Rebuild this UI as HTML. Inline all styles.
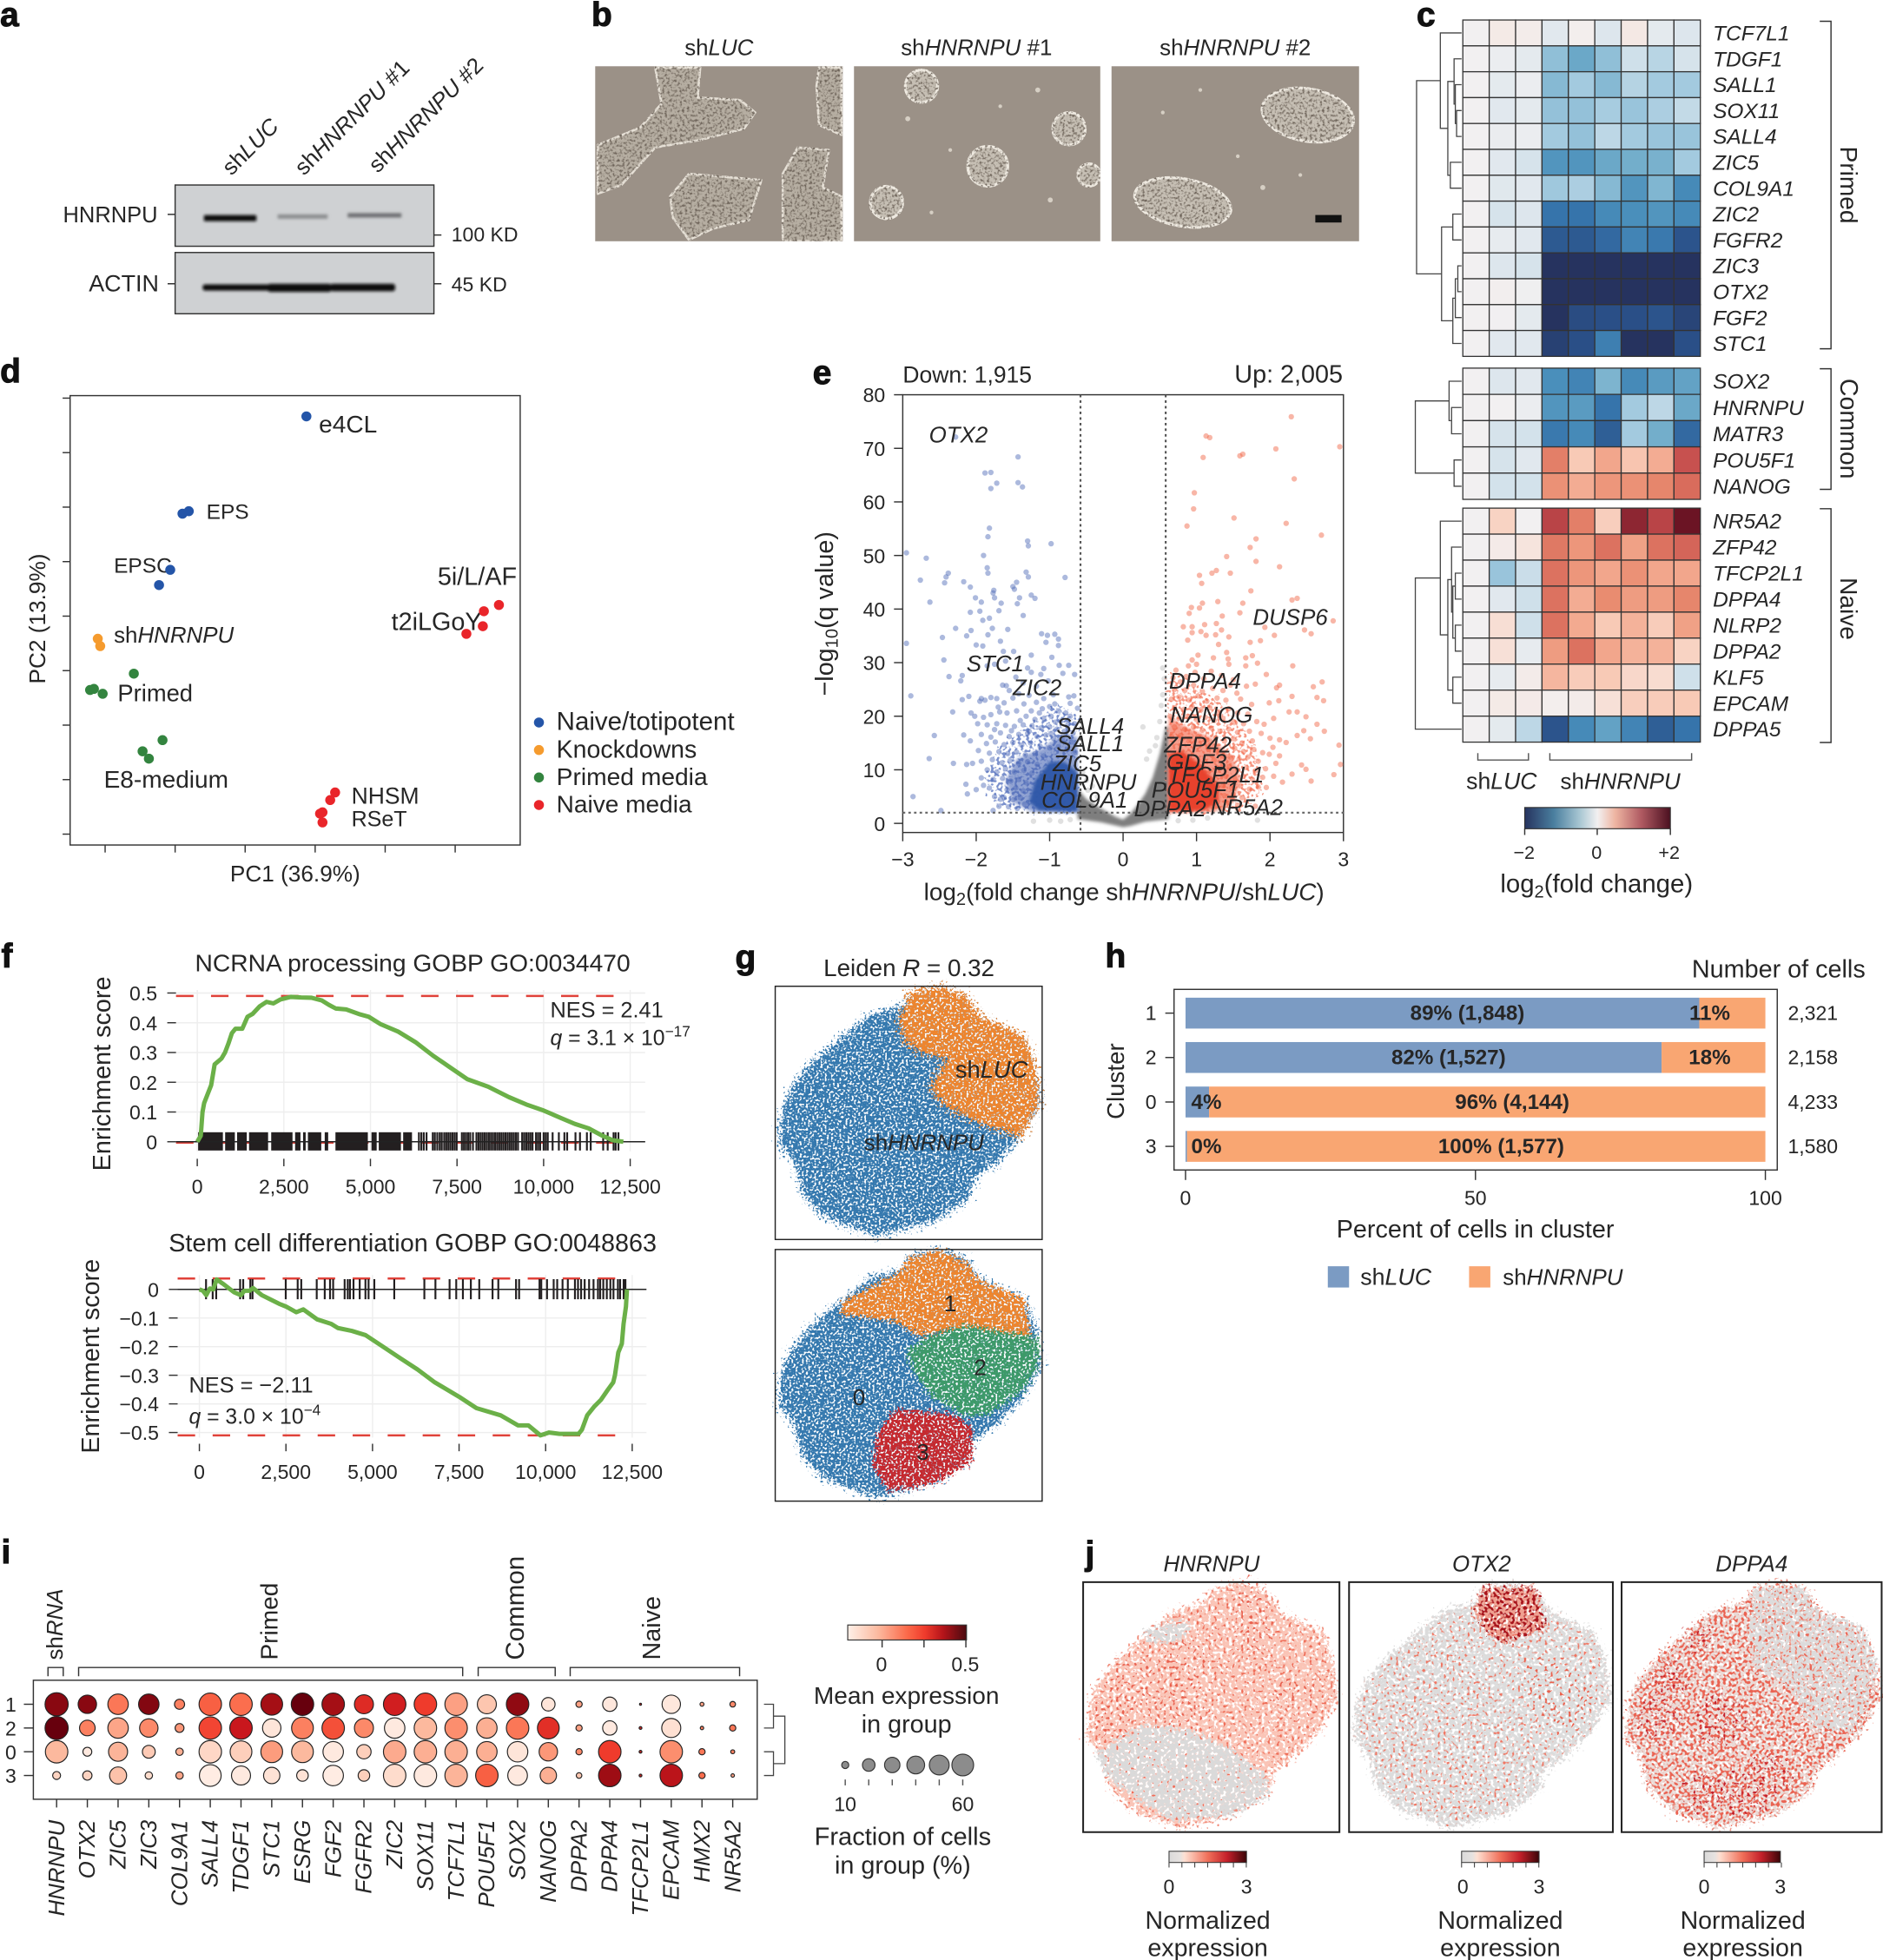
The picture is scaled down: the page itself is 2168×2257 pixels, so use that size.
<!DOCTYPE html>
<html lang="en">
<head>
<meta charset="utf-8">
<title>HNRNPU knockdown figure</title>
<style>
html,body{margin:0;padding:0;background:#fff;}
svg{display:block;}
text{font-family:"Liberation Sans",sans-serif;fill:#262626;font-size:17px;}
.pl{font-weight:bold;font-size:27px;fill:#111;stroke:#111;stroke-width:.7px;}
.it{font-style:italic;}
.t16{font-size:16px;}
.t15{font-size:15px;}
.t18{font-size:18px;}
.g18{font-size:18px;font-style:italic;}
.b17{font-size:16.8px;font-weight:bold;}
.m{text-anchor:middle;}
.e{text-anchor:end;}
</style>
</head>
<body>
<svg id="fig" xmlns="http://www.w3.org/2000/svg" width="2168" height="2257" viewBox="0 0 1506 1568">
<defs>
<filter id="blur1" x="-20%" y="-100%" width="140%" height="300%"><feGaussianBlur stdDeviation="1.1"/></filter>
<filter id="blur2" x="-20%" y="-20%" width="140%" height="140%"><feGaussianBlur stdDeviation="1.3"/></filter>
<filter id="gDense" x="-6%" y="-6%" width="112%" height="112%" color-interpolation-filters="sRGB">
<feTurbulence type="fractalNoise" baseFrequency="0.6" numOctaves="1" seed="4" result="n"/>
<feDisplacementMap in="SourceGraphic" in2="n" scale="16" xChannelSelector="R" yChannelSelector="G" result="d"/>
<feColorMatrix in="n" type="matrix" values="0 0 0 0 0 0 0 0 0 0 0 0 0 0 0 0 0 0 9 -3.3" result="m"/>
<feComposite in="d" in2="m" operator="in"/>
</filter>
<filter id="gSparse" x="-8%" y="-8%" width="116%" height="116%" color-interpolation-filters="sRGB">
<feTurbulence type="fractalNoise" baseFrequency="0.6" numOctaves="1" seed="23" result="n"/>
<feDisplacementMap in="SourceGraphic" in2="n" scale="16" xChannelSelector="R" yChannelSelector="G" result="d"/>
<feColorMatrix in="n" type="matrix" values="0 0 0 0 0 0 0 0 0 0 0 0 0 0 0 0 0 0 9 -4.9" result="m"/>
<feComposite in="d" in2="m" operator="in"/>
</filter>
<filter id="jDense" x="-6%" y="-6%" width="112%" height="112%" color-interpolation-filters="sRGB">
<feTurbulence type="fractalNoise" baseFrequency="0.42" numOctaves="1" seed="9" result="n"/>
<feDisplacementMap in="SourceGraphic" in2="n" scale="16" xChannelSelector="R" yChannelSelector="G" result="d"/>
<feColorMatrix in="n" type="matrix" values="0 0 0 0 0 0 0 0 0 0 0 0 0 0 0 0 0 0 9 -3.3" result="m"/>
<feComposite in="d" in2="m" operator="in"/>
</filter>
<filter id="jMid" x="-6%" y="-6%" width="112%" height="112%" color-interpolation-filters="sRGB">
<feTurbulence type="fractalNoise" baseFrequency="0.42" numOctaves="1" seed="17" result="n"/>
<feDisplacementMap in="SourceGraphic" in2="n" scale="16" xChannelSelector="R" yChannelSelector="G" result="d"/>
<feColorMatrix in="n" type="matrix" values="0 0 0 0 0 0 0 0 0 0 0 0 0 0 0 0 0 0 9 -4.5" result="m"/>
<feComposite in="d" in2="m" operator="in"/>
</filter>
<filter id="jSparse" x="-6%" y="-6%" width="112%" height="112%" color-interpolation-filters="sRGB">
<feTurbulence type="fractalNoise" baseFrequency="0.42" numOctaves="1" seed="31" result="n"/>
<feDisplacementMap in="SourceGraphic" in2="n" scale="16" xChannelSelector="R" yChannelSelector="G" result="d"/>
<feColorMatrix in="n" type="matrix" values="0 0 0 0 0 0 0 0 0 0 0 0 0 0 0 0 0 0 9 -5.4" result="m"/>
<feComposite in="d" in2="m" operator="in"/>
</filter>
<filter id="cellTex" x="-3%" y="-3%" width="106%" height="106%" color-interpolation-filters="sRGB">
<feTurbulence type="fractalNoise" baseFrequency="0.5" numOctaves="2" seed="7" result="n"/>
<feColorMatrix in="n" type="matrix" values="0 0 0 0 .42 0 0 0 0 .38 0 0 0 0 .34 0 0 0 3.2 -1.5" result="m"/>
<feComposite in="m" in2="SourceGraphic" operator="atop"/>
</filter>
<linearGradient id="heatBar"><stop offset="0" stop-color="#26335f"/><stop offset=".2" stop-color="#4a7f9f"/><stop offset=".38" stop-color="#a9c7d3"/><stop offset=".5" stop-color="#f2f0f1"/><stop offset=".62" stop-color="#eeb5a2"/><stop offset=".8" stop-color="#b05a62"/><stop offset="1" stop-color="#4b1020"/></linearGradient>
<linearGradient id="redsBar"><stop offset="0" stop-color="#fff0e8"/><stop offset=".25" stop-color="#fcbba1"/><stop offset=".5" stop-color="#fb6a4a"/><stop offset=".65" stop-color="#ef3b2c"/><stop offset=".8" stop-color="#b5141a"/><stop offset="1" stop-color="#4a0a10"/></linearGradient>
<linearGradient id="exprBar"><stop offset="0" stop-color="#d9d9d9"/><stop offset=".14" stop-color="#e6e2e0"/><stop offset=".2" stop-color="#fee0d2"/><stop offset=".5" stop-color="#f0705a"/><stop offset=".75" stop-color="#c4202a"/><stop offset="1" stop-color="#3b0508"/></linearGradient>
<clipPath id="clipB1"><rect x="476" y="53" width="198" height="140"/></clipPath>
<clipPath id="clipB2"><rect x="683" y="53" width="197" height="140"/></clipPath>
<clipPath id="clipB3"><rect x="889" y="53" width="198" height="140"/></clipPath>
</defs>

<g>
<text class="pl" x="0" y="21">a</text>
<text class="pl" x="473" y="21">b</text>
<text class="pl" x="1133" y="21">c</text>
<text class="pl" x="0" y="306">d</text>
<text class="pl" x="650" y="307">e</text>
<text class="pl" x="1" y="774">f</text>
<text class="pl" x="588" y="775">g</text>
<text class="pl" x="884" y="774">h</text>
<text class="pl" x="1" y="1251">i</text>
<text class="pl" x="868" y="1252">j</text>
</g>

<g id="panelA">
<text class="t18" transform="translate(185,141) rotate(-45)">sh<tspan class="it">LUC</tspan></text>
<text class="t18" transform="translate(243,141) rotate(-45)">sh<tspan class="it">HNRNPU</tspan> #1</text>
<text class="t18" transform="translate(302,139) rotate(-45)">sh<tspan class="it">HNRNPU</tspan> #2</text>
<rect x="140" y="148" width="207" height="49" fill="#cfd1d3" stroke="#333" stroke-width="1"/>
<rect x="140" y="202" width="207" height="49" fill="#cfd1d3" stroke="#333" stroke-width="1"/>
<g filter="url(#blur1)">
<rect x="163" y="172" width="42" height="5" rx="1" fill="#111"/>
<rect x="222" y="171.5" width="40" height="3.5" fill="#8c8e90"/>
<rect x="278" y="170.5" width="43" height="3.5" fill="#6e7072"/>
<rect x="162" y="227.5" width="54" height="5" rx="2" fill="#111"/>
<rect x="214" y="227" width="51" height="6.5" rx="2" fill="#111"/>
<rect x="264" y="227" width="52" height="6" rx="2" fill="#111"/>
</g>
<text class="e" x="126" y="178" style="font-size:17.7px">HNRNPU</text>
<text class="e" x="127" y="233" style="font-size:18.7px">ACTIN</text>
<path d="M134 171.500H140M134 227H140M347 188H353M347 227H353" stroke="#333" stroke-width="1" fill="none"/>
<text class="t16" x="361" y="193">100 KD</text>
<text class="t16" x="361" y="233">45 KD</text>
</g>

<g id="panelB">
<text class="t18 m" x="575" y="44">sh<tspan class="it">LUC</tspan></text>
<text class="t18 m" x="781" y="44">sh<tspan class="it">HNRNPU</tspan> #1</text>
<text class="t18 m" x="988" y="44">sh<tspan class="it">HNRNPU</tspan> #2</text>
<rect x="476" y="53" width="198" height="140" fill="#9b9187"/>
<rect x="683" y="53" width="197" height="140" fill="#9b9187"/>
<rect x="889" y="53" width="198" height="140" fill="#9b9187"/>
<g clip-path="url(#clipB1)" fill="#b6aea2" stroke="#e6e0d6" stroke-width="1.800" stroke-linejoin="round" filter="url(#cellTex)">
<polygon points="524,54 560,54 558,78 592,80 604,90 595,103 560,112 524,118 497,148 478,155 478,116 512,102 529,83"/>
<polygon points="536,157 551,139 609,144 599,176 570,183 551,192 538,174"/>
<polygon points="638,118 663,120 658,150 673,157 673,193 626,193 626,139"/>
<polygon points="655,54 673,54 673,108 655,100 653,69"/>
</g>
<g clip-path="url(#clipB2)" fill="#c6bfb4" stroke="#efeae1" stroke-width="2.200" filter="url(#cellTex)">
<circle cx="737" cy="69" r="13"/>
<circle cx="855" cy="103" r="13"/>
<circle cx="790" cy="133" r="16"/>
<circle cx="709" cy="162" r="13"/>
<circle cx="871" cy="140" r="9"/>
</g>
<g clip-path="url(#clipB3)" fill="#c6bfb4" stroke="#efeae1" stroke-width="2.200" filter="url(#cellTex)">
<ellipse cx="1046" cy="92" rx="37" ry="21" transform="rotate(10 1046 92)"/>
<ellipse cx="946" cy="162" rx="39" ry="19" transform="rotate(10 946 162)"/>
</g>
<rect x="1052" y="172" width="21" height="6" fill="#111"/>
<g fill="#d6cfc4">
<circle cx="726" cy="95" r="2"/><circle cx="760" cy="120" r="1.500"/><circle cx="830" cy="72" r="2"/><circle cx="840" cy="160" r="2"/><circle cx="745" cy="170" r="1.500"/><circle cx="800" cy="85" r="1.500"/>
<circle cx="930" cy="90" r="1.500"/><circle cx="990" cy="125" r="1.500"/><circle cx="1010" cy="150" r="2"/><circle cx="960" cy="72" r="1.500"/><circle cx="1040" cy="140" r="1.500"/>
</g>
</g>

<g id="panelC">
<path d="M1455.500 17H1464.500V279H1455.500M1455.500 295H1464.500V391.500H1455.500M1455.500 407H1464.500V594H1455.500" fill="none" stroke="#333" stroke-width="1"/>
<text class="m" transform="translate(1472,148) rotate(90)" style="font-size:19.500px">Primed</text>
<text class="m" transform="translate(1472,343) rotate(90)" style="font-size:19.800px">Common</text>
<text class="m" transform="translate(1472,487) rotate(90)" style="font-size:19.500px">Naive</text>
<path d="M1182 602.500V608H1222.500V602.500M1239.600 602.500V608H1353V602.500" fill="none" stroke="#555" stroke-width="1"/>
<text class="m" x="1201" y="631" style="font-size:18.500px">sh<tspan class="it">LUC</tspan></text>
<text class="t18 m" x="1296" y="631">sh<tspan class="it">HNRNPU</tspan></text>
<rect x="1219.500" y="646" width="116.500" height="17" fill="url(#heatBar)" stroke="#333" stroke-width=".8"/>
<path d="M1219.500 663V668M1277.500 663V668M1336 663V668" stroke="#333" stroke-width="1"/>
<text class="t15 m" x="1219" y="687">−2</text>
<text class="t15 m" x="1277" y="687">0</text>
<text class="t15 m" x="1335" y="687">+2</text>
<text class="m" x="1277" y="714" style="font-size:20.400px">log<tspan font-size="14" dy="4">2</tspan><tspan dy="-4">(fold change)</tspan></text>
</g>

<g id="panelD">
<rect x="56" y="316.500" width="360" height="359.500" fill="none" stroke="#333" stroke-width="1"/>
<text x="255" y="346" style="font-size:19.500px">e4CL</text>
<text x="165" y="415" style="font-size:17px">EPS</text>
<text x="91" y="458" style="font-size:17px">EPSC</text>
<text x="91" y="514" style="font-size:18px">sh<tspan class="it">HNRNPU</tspan></text>
<text x="94" y="561" style="font-size:19px">Primed</text>
<text x="83" y="630" style="font-size:19.500px">E8-medium</text>
<text x="350" y="468" style="font-size:20px">5i/L/AF</text>
<text x="313" y="504" style="font-size:20px">t2iLGoY</text>
<text x="281" y="643" style="font-size:18.400px">NHSM</text>
<text x="281" y="661" style="font-size:17.400px">RSeT</text>
<text class="m" x="236" y="705" style="font-size:18.200px">PC1 (36.9%)</text>
<text class="m" transform="translate(36,495) rotate(-90)" style="font-size:18.200px">PC2 (13.9%)</text>
<circle cx="431" cy="578" r="4" fill="#2455a8"/>
<circle cx="431" cy="600" r="4" fill="#f59b2e"/>
<circle cx="431" cy="622" r="4" fill="#33843f"/>
<circle cx="431" cy="644" r="4" fill="#e9252a"/>
<text x="445" y="584" style="font-size:20.500px">Naive/totipotent</text>
<text x="445" y="606" style="font-size:19.800px">Knockdowns</text>
<text x="445" y="628" style="font-size:19.600px">Primed media</text>
<text x="445" y="650" style="font-size:19.500px">Naive media</text>
</g>

<g id="panelE">
<text x="722" y="306" style="font-size:18.400px">Down: 1,915</text>
<text class="e" x="1074" y="306" style="font-size:20px">Up: 2,005</text>
<rect x="722" y="315.800" width="352.500" height="350.200" fill="none" stroke="#333" stroke-width="1"/>
<text class="m" transform="translate(666,491) rotate(-90)" style="font-size:20px">−log<tspan font-size="14" dy="4">10</tspan><tspan dy="-4">(q value)</tspan></text>
<text class="m" x="899" y="720" style="font-size:19.400px">log<tspan font-size="14" dy="4">2</tspan><tspan dy="-4">(fold change sh</tspan><tspan class="it">HNRNPU</tspan>/sh<tspan class="it">LUC</tspan>)</text>
</g>

<g id="panelF">
<text class="m" x="330" y="777" style="font-size:19.600px">NCRNA processing GOBP GO:0034470</text>
<text class="m" x="330" y="1001" style="font-size:20px">Stem cell differentiation GOBP GO:0048863</text>
<text class="m" transform="translate(88,859) rotate(-90)" style="font-size:20px">Enrichment score</text>
<text class="m" transform="translate(79,1085) rotate(-90)" style="font-size:20px">Enrichment score</text>
</g>
<g id="panelFt">
<text x="440" y="814" style="font-size:17.600px">NES = 2.41</text>
<text x="440" y="836" style="font-size:17.200px"><tspan class="it">q</tspan> = 3.1 × 10<tspan font-size="12" dy="-7">−17</tspan></text>
<text x="151" y="1114" style="font-size:17.600px">NES = −2.11</text>
<text x="151" y="1139" style="font-size:17.200px"><tspan class="it">q</tspan> = 3.0 × 10<tspan font-size="12" dy="-7">−4</tspan></text>
</g>

<g id="panelG">
<text class="m" x="727" y="781" style="font-size:19.300px">Leiden <tspan class="it">R</tspan> = 0.32</text>
</g>
<g id="panelGt">
<rect x="620" y="789" width="213.500" height="202.600" fill="none" stroke="#222" stroke-width="1"/>
<rect x="620" y="999.600" width="213.500" height="201.300" fill="none" stroke="#222" stroke-width="1"/>
<text x="764" y="862" style="font-size:19px">sh<tspan class="it">LUC</tspan></text>
<text x="691" y="920" style="font-size:18px">sh<tspan class="it">HNRNPU</tspan></text>
<text x="755" y="1049" style="font-size:18px">1</text>
<text x="779" y="1100" style="font-size:18px">2</text>
<text x="682" y="1124" style="font-size:18px">0</text>
<text x="733" y="1168" style="font-size:18px">3</text>
</g>

<g id="panelH">
<rect x="939" y="791.500" width="482.500" height="144.500" fill="none" stroke="#333" stroke-width="1"/>
<text class="e" x="1492" y="782" style="font-size:20px">Number of cells</text>
<text class="m" transform="translate(899,865) rotate(-90)" style="font-size:19.200px">Cluster</text>
<text class="m" x="1180" y="990" style="font-size:20px">Percent of cells in cluster</text>
<rect x="1062" y="1013" width="17" height="17" fill="#7b9bc3"/>
<text x="1088" y="1028" style="font-size:18.600px">sh<tspan class="it">LUC</tspan></text>
<rect x="1175" y="1013" width="17" height="17" fill="#f9a672"/>
<text x="1202" y="1028" style="font-size:18px">sh<tspan class="it">HNRNPU</tspan></text>
</g>

<g id="panelI">
<path d="M38.300 1341V1334H50.500V1341M62.800 1341V1334H370V1341M382.400 1341V1334H444V1341M456 1341V1334H591.500V1341" fill="none" stroke="#333" stroke-width="1"/>
<text transform="translate(50,1328) rotate(-90)" style="font-size:18px">sh<tspan class="it">RNA</tspan></text>
<text transform="translate(222,1328) rotate(-90)" style="font-size:19.500px">Primed</text>
<text transform="translate(419,1328) rotate(-90)" style="font-size:20.500px">Common</text>
<text transform="translate(528,1328) rotate(-90)" style="font-size:20px">Naive</text>
<rect x="26.600" y="1344.200" width="579" height="95.200" fill="none" stroke="#333" stroke-width="1"/>
<rect x="678" y="1300" width="95" height="12" fill="url(#redsBar)" stroke="#333" stroke-width=".8"/>
<path d="M705.500 1312V1318M739 1312V1318M772.500 1312V1318" stroke="#333" stroke-width="1"/>
<text class="t16 m" x="705" y="1337">0</text>
<text class="t16 m" x="772" y="1337">0.5</text>
<text class="m" x="725" y="1363" style="font-size:19.500px">Mean expression</text>
<text class="m" x="725" y="1386" style="font-size:20px">in group</text>
<text class="t16 m" x="676" y="1449">10</text>
<text class="t16 m" x="770" y="1449">60</text>
<text class="m" x="722" y="1476" style="font-size:20.200px">Fraction of cells</text>
<text class="m" x="722" y="1499" style="font-size:20px">in group (%)</text>
</g>

<g id="panelJ">
<text class="g18 m" x="969" y="1257">HNRNPU</text>
<text class="g18 m" x="1185" y="1257">OTX2</text>
<text class="g18 m" x="1401" y="1257">DPPA4</text>
</g>
<g id="panelJt">
<rect x="866.300" y="1265.700" width="205" height="200" fill="none" stroke="#222" stroke-width="1.400"/>
<rect x="1079" y="1265.700" width="211" height="200" fill="none" stroke="#222" stroke-width="1.400"/>
<rect x="1297" y="1265.700" width="208" height="200" fill="none" stroke="#222" stroke-width="1.400"/>
<rect x="935" y="1481" width="62" height="9" fill="url(#exprBar)" stroke="#333" stroke-width=".7"/>
<rect x="1169" y="1481" width="62" height="9" fill="url(#exprBar)" stroke="#333" stroke-width=".7"/>
<rect x="1363" y="1481" width="61" height="9" fill="url(#exprBar)" stroke="#333" stroke-width=".7"/>
<text class="t16 m" x="935" y="1515">0</text>
<text class="t16 m" x="997" y="1515">3</text>
<text class="t16 m" x="1170" y="1515">0</text>
<text class="t16 m" x="1231" y="1515">3</text>
<text class="t16 m" x="1363" y="1515">0</text>
<text class="t16 m" x="1424" y="1515">3</text>
<text class="m" x="966" y="1543" style="font-size:19.800px">Normalized</text>
<text class="m" x="966" y="1565" style="font-size:19.900px">expression</text>
<text class="m" x="1200" y="1543" style="font-size:19.800px">Normalized</text>
<text class="m" x="1200" y="1565" style="font-size:19.900px">expression</text>
<text class="m" x="1394" y="1543" style="font-size:19.800px">Normalized</text>
<text class="m" x="1394" y="1565" style="font-size:19.900px">expression</text>
</g>
</svg>

<script>
/* ---------- panel c data ---------- */
const primedGenes=['TCF7L1','TDGF1','SALL1','SOX11','SALL4','ZIC5','COL9A1','ZIC2','FGFR2','ZIC3','OTX2','FGF2','STC1'];
const primedValues=[
[0,.08,.05,-.12,.03,-.15,.1,-.1,-.15],
[0,-.05,-.1,-.6,-.8,-.6,-.25,-.38,-.2],
[0,-.1,-.05,-.65,-.5,-.65,-.4,-.5,-.5],
[0,-.12,-.1,-.58,-.58,-.48,-.55,-.45,-.32],
[0,-.06,-.05,-.5,-.58,-.35,-.5,-.55,-.55],
[0,-.12,-.2,-.95,-.95,-.8,-.75,-.72,-.5],
[0,-.13,-.12,-.52,-.45,-.65,-.95,-.68,-1.05],
[0,-.2,-.15,-1.25,-1.25,-1.05,-1,-.95,-1.05],
[0,-.08,-.12,-1.5,-1.5,-1.35,-1.1,-1.2,-1.55],
[0,-.15,-.2,-2,-2,-2,-2,-2,-2],
[0,.02,-.02,-2,-2,-2,-2,-2,-2],
[0,-.01,-.1,-2,-1.65,-1.6,-1.6,-1.55,-1.75],
[0,-.12,-.12,-1.8,-1.6,-1.15,-2,-2,-1.6]];
const commonGenes=['SOX2','HNRNPU','MATR3','POU5F1','NANOG'];
const commonValues=[
[0,-.15,-.12,-1,-1.1,-.7,-1.05,-.9,-.85],
[0,0,-.05,-.95,-.9,-1.25,-.5,-.35,-.8],
[0,-.2,-.22,-1.2,-1.05,-1.45,-.5,-.75,-1.35],
[0,-.2,-.12,1.1,.45,.75,.5,.7,1.45],
[0,-.22,-.22,.95,.7,.9,.95,1.05,1.25]];
const naiveGenes=['NR5A2','ZFP42','TFCP2L1','DPPA4','NLRP2','DPPA2','KLF5','EPCAM','DPPA5'];
const naiveValues=[
[0,.35,0,1.55,1.1,.4,1.8,1.55,2],
[0,.07,.15,1.15,.9,1.2,.8,1.2,1.3],
[0,-.55,-.28,1.2,.9,.75,.95,.75,.75],
[0,-.12,-.25,1.2,.7,1,.85,.85,1.05],
[0,.22,-.25,1.2,.72,.45,.65,.42,.8],
[0,.2,-.08,.85,1.2,.75,.65,.65,.35],
[0,-.08,.06,.62,.42,.45,.3,.25,-.25],
[0,.08,.07,.03,.06,.2,.4,.42,.45],
[0,-.1,-.35,-1.55,-1.05,-.85,-1.1,-1.45,-1.25]];

/* ---------- panel d data (PC1, PC2) ---------- */
const pc1Ticks=[-60,-40,-20,0,20,40];
const pc2Ticks=[80,60,40,20,0,-20,-40,-60,-80];
const naiveTotipotentPCs=[[-2.5,73.3],[-37.9,37.6],[-36.1,38.5],[-41.4,17],[-44.6,11.4]];
const knockdownPCs=[[-62.1,-8.3],[-61.4,-11]];
const primedPCs=[[-51.8,-21.1],[-64.3,-27.1],[-63.2,-26.7],[-60.7,-28.5],[-43.6,-45.5],[-49.3,-49.6],[-47.5,-52.3]];
const naiveMediaPCs=[[52.5,4.1],[48.2,1.8],[47.9,-3.7],[43.2,-6.5],[5.7,-64.7],[4.3,-67.5],[2.1,-72],[1.4,-72.5],[2.1,-75.7]];

/* ---------- panel e data (log2FC, -log10 q) ---------- */
const volcanoXTicks=[-3,-2,-1,0,1,2,3];
const volcanoYTicks=[0,10,20,30,40,50,60,70,80];
const volcanoThresholds=[-0.58,0.58];
const volcanoQThreshold=2;
const downSparse=[[-2.28,72.1],[-1.43,68.4],[-1.88,65.4],[-1.8,65.5],[-1.72,63.5],[-1.8,62.5],[-1.43,63.6],[-1.37,62.8],[-1.82,55.1],[-1.84,53.5],[-1.3,52.7],[-1.29,51.8],[-.98,52.2],[-2.95,50.5],[-2.68,49.5],[-1.9,50],[-1.85,47.7],[-1.84,46.7],[-2.38,46.7],[-2.41,46],[-2.43,44.9],[-2.76,45.4],[-2.17,45.1],[-2.08,44.1],[-1.32,46.9],[-1.29,46],[-.79,45.9],[-1.45,45],[-1.5,44.2],[-1.48,43.7],[-1.76,43.5],[-1.77,43],[-2.01,42.1],[-1.93,41.3],[-2.63,41.3],[-1.75,42.1],[-1.66,41.1],[-1.41,42.1],[-1.25,42.6],[-1.2,42],[-1.44,41],[-1.69,39.7],[-2.08,39.4],[-1.95,39.6],[-1.36,38.8],[-1.82,38.3],[-1.91,37.9],[-1.78,36.4],[-1.57,36.2],[-2.28,36.4],[-2.07,36],[-2.46,34.7],[-2.13,35],[-1.84,35.2],[-1.11,35.4],[-1.03,35.1],[-.93,35.3],[-.88,34.4],[-1.05,33.8],[-.88,33.2],[-1.67,34],[-2,33.3],[-1.91,33.1],[-2.95,33.6],[-1.49,32.1],[-1.63,32.1],[-1.25,31.4],[-.97,31],[-2.44,30.5],[-1.6,30.3],[-1.75,29.7],[-1.85,29.4],[-.87,29.5],[-.74,29.5],[-1.3,29],[-1.08,28.9],[-.82,28],[-.66,27.8],[-2.19,27.6],[-2.37,27.4],[-2.21,26.6],[-1.64,25.8],[-1.59,25.7],[-2.89,23.8],[-2.1,23.7],[-2.19,23.1],[-1.93,23.3],[-1.8,23.5],[-.74,23.6],[-.67,23.8],[-2.32,20.8],[-2.07,20.6],[-2.57,16.4],[-2.17,16.5],[-2.64,12.1],[-2.31,11.2],[-2.13,11],[-2.05,11.2],[-2.86,5],[-2.48,2.4],[-2.14,7.3],[-2.12,5.5],[-2,6.3],[-1.9,7.1],[-1.93,8.5],[-1.77,2.4],[-1.75,5],[-1.67,4.5],[-1.69,3.2]];
const downMid=[[-1.95,22.8],[-1.88,23],[-1.72,23.3],[-1.62,22.5],[-1.5,23.4],[-1.42,24.2],[-1.35,22.3],[-1.25,21],[-1.18,22.6],[-1.1,21.4],[-1,21.8],[-.93,22.3],[-.88,21],[-.78,20.6],[-.72,20],[-2.02,20],[-1.9,19.8],[-1.8,20.3],[-1.68,20.8],[-1.58,20.6],[-1.45,21],[-1.32,20],[-1.2,19.4],[-1.08,19.6],[-.98,20],[-.85,19.1],[-.75,18.5],[-1.98,18.6],[-1.85,18.4],[-1.72,18.6],[-1.6,18.3],[-1.48,18.1],[-1.36,18.4],[-1.24,18.2],[-1.12,17.8],[-1,18],[-.9,17.6],[-.8,17.2],[-.68,16.9],[-1.93,16.6],[-1.8,16.1],[-1.67,16.9],[-1.55,16.2],[-1.42,16.6],[-1.3,16.8],[-1.17,16.2],[-1.05,16.5],[-.95,15.9],[-.83,15.6],[-.7,15.2],[-2.08,15.4],[-1.86,14.9],[-1.74,15.2],[-1.62,14.7],[-1.5,15.1],[-1.38,14.6],[-1.26,15],[-1.13,14.4],[-1,14.1],[-.88,14.3],[-.76,13.8],[-.65,13.3],[-1.97,13.6],[-1.82,13.1],[-1.69,13.4],[-1.57,13],[-1.45,13.3],[-1.33,12.8],[-1.2,13],[-1.08,12.6],[-1.93,11.6],[-1.78,11.9],[-1.65,11.3],[-1.54,11.7],[-1.42,11.2],[-1.3,11.5],[-1.17,11],[-1.85,10],[-1.72,9.6],[-1.6,10.2],[-1.48,9.6],[-1.35,9.9],[-1.24,9.4],[-1.77,8.2],[-1.64,8.4],[-1.53,7.9],[-1.42,8.2],[-1.32,7.6],[-1.82,6.6],[-1.58,6.3],[-1.46,6.6],[-1.36,6.1],[-1.62,4.8],[-1.5,4.4],[-1.4,4.8],[-1.34,3.6],[-1.56,3.1],[-1.44,2.8],[-.95,24],[-1.08,23.3],[-1.28,23.9],[-1.55,24.8],[-1.7,21.7],[-1.4,19.2],[-1.14,20.6],[-.92,18.9],[-.66,18.6],[-1.52,17.3],[-1.75,17.5],[-1.28,17.2],[-.98,16.8],[-.62,21.5],[-.72,22.4],[-1.02,26.6],[-1.18,25.6],[-1.36,26.2],[-1.46,27.3],[-1.12,27.8],[-1.25,28.2]];
const downOuterOutline=[[-.62,2],[-.62,20],[-.9,22],[-1.3,18],[-1.7,14],[-1.9,8],[-1.7,3.5],[-1.3,2.2]];
const downDenseOutline=[[-.62,2],[-.62,16],[-.8,17],[-1.1,14],[-1.45,12],[-1.6,8],[-1.5,4],[-1.25,2.2]];
const downCoreOutline=[[-.62,2.2],[-.62,9.5],[-.8,11.5],[-1,11.5],[-1.2,8],[-1.28,4],[-1.15,2.4]];
const upSparse=[[2.29,75.9],[1.13,72.3],[1.18,72],[2.95,70.3],[2.08,69.9],[1.63,68.9],[1.59,68.6],[1.09,68.3],[2.33,64.3],[.97,61.7],[.96,58.7],[1.51,57],[.87,55.5],[2.22,56],[2.7,53.8],[1.81,53.1],[1.73,51.5],[1.41,49.8],[1.81,48.9],[2.13,47.9],[1.27,47.2],[1.21,46.7],[1.46,46.7],[1.04,46.3],[1.07,44.8],[1.74,43.4],[2.37,42],[2.3,41.7],[1.29,41.4],[1.63,41.1],[1.08,41.1],[.93,40.3],[1.04,40.2],[.9,39.2],[1.35,38.7],[1.59,39.3],[2.86,37.8],[.82,36.7],[.94,36.7],[1.11,37.1],[1.27,37.3],[1.34,36.1],[1.93,36.6],[2.47,36.1],[2.56,35.4],[.94,35.6],[1.06,35.8],[1.13,35.1],[1.26,35.2],[1.44,34.8],[2.06,35.1],[1.87,34.1],[.88,34.2],[1.3,33.4],[1.73,33.8],[1.41,31.9],[1.02,31.4],[.94,30.5],[1.23,30.9],[1.43,30.7],[1.67,30.9],[1.76,31.3],[.89,29.4],[1,29.7],[1.44,29.7],[1.67,29.4],[1.83,29.9],[2.31,29.4],[.72,28.6],[1.95,27.8],[2.71,26.4],[1.8,26],[2.13,25.8],[2.59,25.5],[2.09,25.3],[1.55,24.3],[2.3,23.7],[2.64,23.5],[2.73,22.9],[1.99,22.5],[2.12,22.9],[2.26,20.8],[2.37,20.8],[2.49,19.9],[2.05,19.6],[2.64,18.5],[1.92,18.5],[2.74,17.2],[2.46,17.3],[2.37,16.4],[2.55,15.8],[2.13,15.6],[2.22,15.1],[2.94,14.6],[2.96,11],[2.49,10.1],[2.87,9.1],[2.56,7.9],[2.17,7.7],[2.3,9.2],[2.43,10.9],[1.99,12.9],[2.13,12.6],[1.95,6.7]];
const upMid=[[.68,27.2],[.78,26.4],[.86,27.4],[.98,28.2],[1.1,27],[1.2,28.4],[1.34,27.6],[1.5,26.8],[.7,25],[.84,24.8],[.96,25.8],[1.08,24.6],[1.22,25.2],[1.36,24.8],[1.46,25.8],[1.68,25.6],[.66,23.2],[.76,23.6],[.9,23],[1.02,23.8],[1.14,22.8],[1.28,23.4],[1.4,23],[1.6,23.2],[1.75,22.2],[.7,21.6],[.82,21.2],[.94,21.8],[1.06,21.2],[1.18,21.6],[1.3,20.8],[1.44,21.4],[1.56,20.6],[1.7,20.4],[.64,20],[.76,19.6],[.88,20],[1,19.4],[1.12,19.8],[1.24,19.2],[1.36,19.6],[1.5,19],[1.64,18.6],[1.82,19],[.7,18],[.84,17.6],[.96,18],[1.08,17.4],[1.2,17.8],[1.32,17.2],[1.44,17.6],[1.56,17],[1.72,17.2],[1.88,16.8],[.66,16.2],[.78,16.4],[.9,15.8],[1.02,16.2],[1.14,15.6],[1.26,16],[1.38,15.4],[1.5,15.8],[1.62,15],[1.76,15.4],[2,15.9],[1.52,14],[1.64,13.4],[1.78,13.8],[1.9,13.2],[2.04,14.2],[1.46,12.4],[1.58,12],[1.7,12.4],[1.84,11.6],[2.08,11.2],[1.44,10.6],[1.56,10],[1.68,10.4],[1.8,9.8],[1.94,10.2],[1.4,8.8],[1.52,8.4],[1.64,8.8],[1.76,8.2],[1.9,8.6],[2.05,8.8],[1.36,7],[1.48,6.6],[1.6,7],[1.72,6.4],[1.84,6.8],[1.38,5.2],[1.5,5.4],[1.62,4.8],[1.42,3.8],[1.56,3.4],[1.34,2.8],[1.8,3.2],[1.16,14.2],[1.28,13.6],[1.36,12.6],[1.24,11.8]];
const upOuterOutline=[[.62,2],[.62,28],[.9,26],[1.4,22],[1.8,14],[1.9,6],[1.6,2.2]];
const upDenseOutline=[[.62,2],[.62,20],[.85,18],[1.2,16],[1.5,12],[1.6,8],[1.5,4],[1.25,2.2]];
const upCoreOutline=[[.62,2.2],[.62,13],[.8,13.5],[1.05,11],[1.3,7],[1.3,4],[1.1,2.4]];
const nsOutline=[[-.62,.8],[-.62,6.5],[-.5,4.5],[-.3,2.8],[-.1,1.2],[0,.7],[.1,1.8],[.2,3.5],[.3,5.5],[.4,8.5],[.5,13],[.58,18],[.62,18],[.62,.8],[.3,.3],[.1,-.5],[0,-.7],[-.1,-.4],[-.3,.2]];
const nsSparse=[[.54,29],[.56,27],[.52,22],[.5,19],[.27,18],[.44,14.5],[.36,13.5],[.32,12],[.54,24],[.46,16],[-.5,8],[-.42,7],[-.35,5],[-1.22,.4],[-1,.6],[-.85,.4],[-.72,.7],[.75,.5],[.95,.6],[1.83,.6],[1.15,1],[-.55,9.5],[-.48,6.2]];
const volcanoGenes=[['OTX2',743,354],['STC1',773,537],['ZIC2',810,556],['SALL4',845,587],['SALL1',845,601],['ZIC5',842,617],['HNRNPU',832,632],['COL9A1',833,646],['DPPA4',935,551],['NANOG',936,578],['ZFP42',931,602],['GDF3',933,616],['TFCP2L1',934,626],['POU5F1',921,638],['DPPA2',907,653],['NR5A2',968,652],['DUSP6',1002,500]];

/* ---------- panel f data ---------- */
const gseaXTicks=[0,2500,5000,7500,10000,12500];
const gseaTopYTicks=[0.5,0.4,0.3,0.2,0.1,0];
const gseaBottomYTicks=[0,-0.1,-0.2,-0.3,-0.4,-0.5];
const ncrnaRanks=[0,100,150,200,300,400,500,700,800,900,1000,1100,1300,1450,1600,1800,2000,2200,2400,2700,3000,3300,3600,3800,4000,4300,4700,4950,5300,5800,6300,6800,7300,7800,8400,9000,9500,10000,10500,10900,11300,11700,12000,12300];
const ncrnaScores=[0,.02,.1,.13,.16,.19,.26,.28,.3,.33,.365,.38,.38,.42,.43,.455,.47,.465,.478,.487,.485,.484,.475,.46,.448,.445,.428,.42,.395,.37,.335,.29,.25,.21,.185,.15,.125,.105,.08,.06,.045,.02,.005,0];
const ncrnaHitSpans=[[25,740],[805,1085],[1150,1430],[1495,2045],[2135,2750],[2825,2980],[3055,3130],[3195,3580],[3680,3780],[3990,4925],[5030,5180],[5240,5880],[5945,6200]];
const ncrnaHits=[6400,6470,6540,6620,6800,6860,6930,7000,7060,7130,7190,7250,7310,7370,7430,7490,7640,7700,7760,7820,7880,7960,8060,8120,8180,8240,8300,8360,8420,8480,8540,8600,8660,8720,8780,8840,8900,8960,9020,9080,9140,9200,9260,9380,9440,9500,9560,9620,9680,9780,9840,9900,10000,10060,10120,10260,10440,10600,10680,10920,11050,11250,11360,11720,11850,12020,12080,12160];
const stemRanks=[0,100,200,300,400,500,700,1000,1200,1300,1450,1550,1800,2300,2500,2800,3000,3400,3800,4000,4400,4800,5300,5800,6300,6800,7500,8000,8700,9200,9500,9850,10100,10400,10700,10950,11050,11200,11400,11600,11800,11950,12000,12100,12200,12250,12320,12350];
const stemScores=[0,-.005,-.02,.003,0,.035,.018,-.01,-.02,-.005,-.005,.005,-.02,-.05,-.06,-.08,-.07,-.105,-.12,-.135,-.145,-.16,-.2,-.24,-.28,-.325,-.375,-.415,-.44,-.475,-.475,-.51,-.5,-.505,-.505,-.505,-.49,-.44,-.41,-.385,-.35,-.325,-.3,-.22,-.19,-.12,-.06,0];
const stemHits=[192,384,486,1177,1266,1471,1535,2494,2839,2942,3389,3620,3773,3863,4195,4285,4349,4451,4630,4796,4886,5052,5628,6497,6817,7226,7418,7610,7840,8083,8467,8633,9145,9234,9823,9874,10040,10232,10334,10488,10641,10846,10935,11025,11127,11255,11383,11511,11575,11665,11767,11869,11959,12087,12151,12253,12304];
const ncrnaPeak=[0.49,-0.003];
const stemPeak=[0.038,-0.51];

/* ---------- panels g and j data: UMAP outlines on a 0-100 embedding ---------- */
const umapOutline=[[61.4,.3],[71,3.7],[76.5,11.9],[93,20],[97.2,31.3],[99.2,46.1],[91.7,59.5],[83.5,68.4],[73.8,75.9],[72.4,83.3],[60,92.3],[38,98.2],[18.7,90.8],[10.5,81.8],[7.7,69.9],[1.7,61.8],[2.8,49.1],[6.3,40.2],[13.2,31.3],[21.5,23.8],[35.3,11.9],[47.7,8.2],[50.4,2.9]];
const shLucOutline=[[61.4,.3],[71,3.7],[76.5,11.9],[93,20],[97.2,31.3],[98.6,46.1],[91.7,59.5],[84.8,56.5],[76.6,53.6],[62.8,46.1],[58.7,40.2],[61.4,34.2],[65.6,28.3],[57.3,26.8],[49,22.3],[46.8,13.4],[50.4,2.9]];
const cluster1Outline=[[61.4,.4],[71,4.6],[76.5,12.1],[93,19.6],[96.4,37.6],[87.6,33.1],[71,30.1],[54.5,34.6],[44.9,28.6],[35.3,27.1],[24.2,25.6],[25.6,20.4],[35.3,15.1],[46.8,9.1],[50.4,3.1]];
const cluster2Outline=[[71,30.1],[87.6,33.1],[98.6,34.6],[98.6,46.6],[91.7,57.1],[79.3,66],[71,66],[58.7,58.6],[51.8,48.1],[49,40.6],[57.3,34.6]];
const cluster3Outline=[[44.9,63.8],[65.6,65.3],[73.8,70.5],[73.8,84],[60,93],[42.1,96],[36.6,85.5],[38,73.6]];
const hnrnpuLowRegion=[[4.8,68.5],[23.6,57],[40.4,59],[57,66],[71.8,77.8],[71.8,85.9],[57,94],[34,95],[21.5,87],[9,77.8]];
const hnrnpuLowPatch=[[23.6,19.9],[34,15.3],[42.5,16.4],[38.3,23.4],[25.7,24.5]];
const hnrnpuHotspots=[[38,50,11],[65,6,8],[67,19,8],[82,46,9],[19,40,11],[12,55,8],[40,32,9]];
const otx2TopRegion=[[50.2,2.5],[70.5,1.4],[73.6,13],[74.6,18.7],[58.3,24.5],[52.2,19.9],[47.2,10.7]];
const otx2RightRegion=[[66,31],[80,30],[93,44],[92,58],[80,62],[68,48]];
const dppa4LowRegion=[[51,2.5],[70,1.4],[74,10.6],[92.4,17.6],[98.6,33.8],[90.3,59],[74,59],[65.6,43],[51,33.8],[49,19.9]];
const dppa4Hotspots=[[19,39,7],[29,22,6],[48,85,10],[56,78,9],[38,55,10],[14,55,9],[32,84,8]];

/* ---------- panel h data ---------- */
const clusterOrder=['1','2','0','3'];
const shLucPercent=[88.6,82.1,4.06,0.25];
const cellTotals=['2,321','2,158','4,233','1,580'];
const shLucLabels=['89% (1,848)','82% (1,527)','4%','0%'];
const shHnrnpuLabels=['11%','18%','96% (4,144)','100% (1,577)'];
const percentTicks=[0,50,100];

/* ---------- panel i data ---------- */
const dotGenes=['HNRNPU','OTX2','ZIC5','ZIC3','COL9A1','SALL4','TDGF1','STC1','ESRG','FGF2','FGFR2','ZIC2','SOX11','TCF7L1','POU5F1','SOX2','NANOG','DPPA2','DPPA4','TFCP2L1','EPCAM','HMX2','NR5A2'];
const dotClusters=['1','2','0','3'];
const dotFraction=[
[68,43,53,53,13,64,64,60,64,64,46,64,64,64,46,64,23,5,26,.5,43,2,4],
[68,31,53,43,10,64,64,43,60,64,46,53,64,64,53,64,60,5,26,1,46,1.5,5],
[64,10,46,21,7,64,60,60,60,53,26,64,64,64,53,53,43,5,64,1,64,5,2],
[8,11,37,7,7,60,46,34,17,53,17,64,64,64,64,49,34,4,64,1,64,5,1.5]];
const dotMean=[
[.45,.45,.12,.46,.1,.17,.14,.41,.5,.41,.28,.31,.24,.03,-.05,.44,-.13,.03,-.14,.3,-.14,.03,.08],
[.5,.1,.02,.08,.05,.22,.33,-.13,.1,.2,.08,-.15,-.02,.07,0,.12,.27,.03,-.15,.3,-.11,.1,.12],
[-.02,-.15,-.01,-.06,0,-.09,-.07,.04,-.02,-.15,-.07,.01,0,0,0,-.13,.05,.08,.24,.3,.07,.12,.1],
[-.08,-.08,-.04,-.1,.02,-.16,-.15,-.12,-.12,-.16,-.07,-.1,-.15,-.01,.17,-.15,0,-.05,.42,.3,.36,.14,.03]];
const fractionLegend=[10,20,30,40,50,60];

/* ---------- helpers ---------- */
const NS='http://www.w3.org/2000/svg';
const $=id=>document.getElementById(id);
function mk(parent,tag,attrs,txt){
  const el=document.createElementNS(NS,tag);
  for(const k in attrs) el.setAttribute(k,attrs[k]);
  if(txt!==undefined) el.textContent=txt;
  parent.appendChild(el);
  return el;
}
function lerpHex(a,b,t){
  const pa=[1,3,5].map(i=>parseInt(a.substr(i,2),16));
  const pb=[1,3,5].map(i=>parseInt(b.substr(i,2),16));
  return 'rgb('+pa.map((v,i)=>Math.round(v+(pb[i]-v)*t)).join(',')+')';
}
function rampColor(domain,colors,v){
  if(v<=domain[0]) return colors[0];
  for(let i=1;i<domain.length;i++){
    if(v<=domain[i]) return lerpHex(colors[i-1],colors[i],(v-domain[i-1])/(domain[i]-domain[i-1]));
  }
  return colors[colors.length-1];
}
const minusFmt=v=>String(v).replace('-','−');
const linear=(d0,d1,r0,r1)=>v=>r0+(v-d0)/(d1-d0)*(r1-r0);

/* ---------- panel c ---------- */
const heatDomain=[-2,-1.6,-1.25,-1,-.75,-.5,-.25,0,.25,.5,.75,1,1.25,1.5,1.75,2];
const heatColors=['#26335f','#2a4f87','#3674ab','#4a8fbb','#73aecb','#a3cadf','#cfe0ea','#f2f0f1','#f8dcd0','#f8c5b0','#f2a68c','#e98c70','#d96c5c','#c24a4c','#962a35','#6b1424'];
const heatX=linear(0,9,1170,1360);
function drawHeat(genes,values,top,rowH){
  const g=mk($('panelC'),'g',{});
  
  
  values.forEach((row,r)=>{
    row.forEach((v,c)=>{
      const cell=mk(g,'rect',{x:heatX(c),y:top+r*rowH,width:heatX(1)-heatX(0),height:rowH,fill:rampColor(heatDomain,heatColors,v),stroke:'#333','stroke-width':.9});
      
      
    });
    const lab=mk(g,'text',{x:1370,y:top+r*rowH+rowH/2+6,'class':'it'},genes[r]);
    
    
  });
}
const primedTop=16, commonTop=294.5, naiveTop=406.5, primedRowH=20.7, commonRowH=21, naiveRowH=20.8;
drawHeat(primedGenes,primedValues,primedTop,primedRowH);
drawHeat(commonGenes,commonValues,commonTop,commonRowH);
drawHeat(naiveGenes,naiveValues,naiveTop,naiveRowH);
function drawTree(g,node,top,rowH,leafX){
  if(typeof node==='number') return {x:leafX,y:top+(node+.5)*rowH};
  const kids=node.k.map(k=>drawTree(g,k,top,rowH,leafX));
  const y=(kids[0].y+kids[kids.length-1].y)/2;
  let d='M'+kids[0].x+' '+kids[0].y+'H'+node.x+'V'+kids[kids.length-1].y+'H'+kids[kids.length-1].x;
  const p=mk(g,'path',{d:d,fill:'none',stroke:'#444','stroke-width':.9});
  
  
  return {x:node.x,y:y};
}
const primedTree={x:1133,k:[{x:1152,k:[0,{x:1158,k:[{x:1163,k:[1,{x:1164,k:[2,{x:1165,k:[3,4]}]}]},{x:1160,k:[5,6]}]}]},{x:1153,k:[{x:1162,k:[7,8]},{x:1162,k:[{x:1164,k:[{x:1166,k:[9,10]},11]},12]}]}]};
const commonTree={x:1132,k:[{x:1159,k:[0,{x:1161,k:[1,2]}]},{x:1163,k:[3,4]}]};
const naiveTree={x:1132,k:[{x:1152,k:[0,{x:1158,k:[{x:1161,k:[1,{x:1162,k:[{x:1164,k:[2,3]},{x:1164,k:[4,5]}]}]},{x:1162,k:[6,7]}]}]},8]};
drawTree($('panelC'),primedTree,primedTop,primedRowH,1169);
drawTree($('panelC'),commonTree,commonTop,commonRowH,1169);
drawTree($('panelC'),naiveTree,naiveTop,naiveRowH,1169);

/* ---------- panel d ---------- */
const pcX=linear(-60,40,84,364);
const pcY=linear(80,-80,318.5,667.3);
pc1Ticks.forEach(v=>{
  const t=mk($('panelD'),'line',{x1:pcX(v),x2:pcX(v),y1:676,y2:682,stroke:'#333'});
  
  
});
pc2Ticks.forEach(v=>{
  const t=mk($('panelD'),'line',{x1:50,x2:56,y1:pcY(v),y2:pcY(v),stroke:'#333'});
  
  
});
[[naiveTotipotentPCs,'#2455a8'],[knockdownPCs,'#f59b2e'],[primedPCs,'#33843f'],[naiveMediaPCs,'#e9252a']].forEach(s=>{
  s[0].forEach(pt=>{
    const c=mk($('panelD'),'circle',{cx:pcX(pt[0]),cy:pcY(pt[1]),r:4,fill:s[1]});
    
    
  });
});

/* ---------- panel e ---------- */
const vx=linear(-3,3,722,1074.5);
const vy=linear(0,80,658.7,315.8);
const pe=$('panelE');
const polyPts=(arr,fx,fy)=>arr.map(p=>fx(p[0]).toFixed(1)+','+fy(p[1]).toFixed(1)).join(' ');
volcanoXTicks.forEach(v=>{
  const t=mk(pe,'line',{x1:vx(v),x2:vx(v),y1:666,y2:673,stroke:'#333'});
  
  
  const l=mk(pe,'text',{x:vx(v),y:693,'class':'t16 m'},minusFmt(v));
  
  
});
volcanoYTicks.forEach(v=>{
  const t=mk(pe,'line',{x1:715,x2:722,y1:vy(v),y2:vy(v),stroke:'#333'});
  
  
  const l=mk(pe,'text',{x:708,y:vy(v)+6,'class':'t16 e'},String(v));
  
  
});
nsSparse.forEach(p=>{
  const c=mk(pe,'circle',{cx:vx(p[0]),cy:vy(p[1]),r:2.2,fill:'#999','fill-opacity':.3});
  
  
});
const nsPoly=mk(pe,'polygon',{points:polyPts(nsOutline,vx,vy),fill:'#7e7e7e',filter:'url(#blur2)'});


[[downOuterOutline,'#6d85c8',.9,'jMid'],[upOuterOutline,'#f58a72',.9,'jMid']].forEach(s=>{
  const d=mk(pe,'polygon',{points:polyPts(s[0],vx,vy),fill:s[1],'fill-opacity':s[2],filter:'url(#'+s[3]+')'});
  
  
});
[[downDenseOutline,'#4a66b4',.6],[downCoreOutline,'#2f58a8',.97],[upDenseOutline,'#f26a50',.65],[upCoreOutline,'#e8402c',.98]].forEach(s=>{
  const d=mk(pe,'polygon',{points:polyPts(s[0],vx,vy),fill:s[1],'fill-opacity':s[2],filter:'url(#blur2)'});
  
  
});
downSparse.concat(downMid).forEach(p=>{
  const c=mk(pe,'circle',{cx:vx(p[0]),cy:vy(p[1]),r:2.2,fill:'#4a66b4','fill-opacity':.46});
  
  
});
upSparse.concat(upMid).forEach(p=>{
  const c=mk(pe,'circle',{cx:vx(p[0]),cy:vy(p[1]),r:2.2,fill:'#f0603f','fill-opacity':.46});
  
  
});
volcanoThresholds.forEach(v=>{
  const l=mk(pe,'line',{x1:vx(v),x2:vx(v),y1:315.8,y2:666,stroke:'#555','stroke-width':1.5,'stroke-dasharray':'2 2.5'});
  
  
});
const qLine=mk(pe,'line',{x1:722,x2:1074.5,y1:vy(volcanoQThreshold),y2:vy(volcanoQThreshold),stroke:'#666','stroke-width':1.5,'stroke-dasharray':'2 2.5'});


volcanoGenes.forEach(g=>{
  const t=mk(pe,'text',{x:g[1],y:g[2],'class':'g18'},g[0]);
  
  
});

/* ---------- panel f ---------- */
const pf=$('panelF');
function gsea(cfg){
  const x=linear(0,12500,cfg.x0,cfg.x1), y=linear(cfg.yA,cfg.yB,cfg.pyA,cfg.pyB);
  cfg.xTicks.forEach(v=>{
    const gl=mk(pf,'line',{x1:x(v),x2:x(v),y1:cfg.top,y2:cfg.bottom,stroke:'#eeeeee','stroke-width':1});
    
    
    const t=mk(pf,'line',{x1:x(v),x2:x(v),y1:cfg.tickY,y2:cfg.tickY+6,stroke:'#333'});
    
    
    const l=mk(pf,'text',{x:x(v),y:cfg.labelY,'class':'t16 m'},v.toLocaleString('en-US'));
    
    
  });
  cfg.yTicks.forEach(v=>{
    const gl=mk(pf,'line',{x1:cfg.left,x2:cfg.right,y1:y(v),y2:y(v),stroke:'#eeeeee','stroke-width':1});
    
    
    const t=mk(pf,'line',{x1:cfg.left-7,x2:cfg.left,y1:y(v),y2:y(v),stroke:'#333'});
    
    
    const l=mk(pf,'text',{x:cfg.left-15,y:y(v)+6,'class':'t16 e'},minusFmt(v));
    
    
  });
  cfg.peaks.forEach(v=>{
    const r=mk(pf,'line',{x1:cfg.left,x2:cfg.right-12,y1:y(v),y2:y(v),stroke:'#e0423a','stroke-width':1.7,'stroke-dasharray':'14 14'});
    
    
  });
  (cfg.spans||[]).forEach(s=>{
    const b=mk(pf,'rect',{x:x(s[0]),y:cfg.rug0,width:x(s[1])-x(s[0]),height:cfg.rug1-cfg.rug0,fill:'#231f20'});
    
    
  });
  cfg.hits.forEach(h=>{
    const b=mk(pf,'line',{x1:x(h),x2:x(h),y1:cfg.rug0,y2:cfg.rug1,stroke:'#231f20','stroke-width':1.5});
    
    
  });
  const base=mk(pf,'line',{x1:cfg.left,x2:cfg.right,y1:y(0),y2:y(0),stroke:'#222','stroke-width':1});
  
  
  const pts=cfg.ranks.map((r,i)=>x(r).toFixed(1)+','+y(cfg.scores[i]).toFixed(1)).join(' ');
  const line=mk(pf,'polyline',{points:pts,fill:'none',stroke:'#6bb048','stroke-width':3.5,'stroke-linejoin':'round'});
  
  
}
gsea({x0:157.7,x1:504,yA:.5,yB:0,pyA:794.4,pyB:913.4,left:140.7,right:516,top:792,bottom:921,tickY:927,labelY:955,xTicks:gseaXTicks,yTicks:gseaTopYTicks,peaks:ncrnaPeak,spans:ncrnaHitSpans,hits:ncrnaHits,rug0:905.8,rug1:920.4,ranks:ncrnaRanks,scores:ncrnaScores});
gsea({x0:159.4,x1:505.6,yA:0,yB:-.5,pyA:1031.5,pyB:1146,left:142,right:517,top:1020,bottom:1150,tickY:1155,labelY:1183,xTicks:gseaXTicks,yTicks:gseaBottomYTicks,peaks:stemPeak,hits:stemHits,rug0:1023.3,rug1:1039.4,ranks:stemRanks,scores:stemScores});

/* ---------- panel g ---------- */
const pg=$('panelG');
function umapScale(box){
  return {x:linear(0,100,box.x,box.x+box.w),y:linear(0,100,box.y,box.y+box.h)};
}
const gTopBox={x:620,y:789,w:213.5,h:202.6}, gBottomBox={x:620,y:999.6,w:213.5,h:201.3};
function umapRegion(parent,outline,box,color,filter){
  const s=umapScale(box);
  const p=mk(parent,'polygon',{points:polyPts(outline,s.x,s.y),fill:color,filter:'url(#'+filter+')'});
  
  
  return p;
}
function umapEdge(parent,outline,box,color,filter){
  const s=umapScale(box);
  const p=mk(parent,'polygon',{points:polyPts(outline,s.x,s.y),fill:'none',stroke:color,'stroke-width':7,filter:'url(#'+filter+')'});
  
  
  return p;
}
umapRegion(pg,umapOutline,gTopBox,'#3478ae','gDense');
umapEdge(pg,umapOutline,gTopBox,'#3478ae','gSparse');
umapRegion(pg,shLucOutline,gTopBox,'#f0852c','gDense');
umapEdge(pg,shLucOutline,gTopBox,'#f0852c','gSparse');
umapRegion(pg,umapOutline,gBottomBox,'#3478ae','gDense');
umapEdge(pg,umapOutline,gBottomBox,'#3478ae','gSparse');
umapRegion(pg,cluster1Outline,gBottomBox,'#f0852c','gDense');
umapRegion(pg,cluster2Outline,gBottomBox,'#3d9a68','gDense');
umapRegion(pg,cluster3Outline,gBottomBox,'#c8282d','gDense');

/* ---------- panel h ---------- */
const ph=$('panelH');
const px=linear(0,100,948.2,1412);
const barCenters=[810.5,846,881.6,917.1];
const barH=24.7;
clusterOrder.forEach((c,i)=>{
  const y=barCenters[i]-barH/2, split=shLucPercent[i];
  const a=mk(ph,'rect',{x:px(0),y:y,width:px(split)-px(0),height:barH,fill:'#7b9bc3'});
  
  
  const b=mk(ph,'rect',{x:px(split),y:y,width:px(100)-px(split),height:barH,fill:'#f9a672'});
  
  
  const big=split>50;
  const la=mk(ph,'text',{x:big?px(split/2)+20:px(3.6),y:barCenters[i]+5.5,'class':'b17 m'},shLucLabels[i]);
  
  
  const lb=mk(ph,'text',{x:big?px(90.4):px((split+100)/2)+20,y:barCenters[i]+5.5,'class':'b17 m'},shHnrnpuLabels[i]);
  
  
  const t=mk(ph,'line',{x1:932,x2:939,y1:barCenters[i],y2:barCenters[i],stroke:'#333'});
  
  
  const l=mk(ph,'text',{x:925,y:barCenters[i]+5.5,'class':'t16 e'},c);
  
  
  const n=mk(ph,'text',{x:1430,y:barCenters[i]+5.5,'class':'t16'},cellTotals[i]);
  
  
});
percentTicks.forEach(v=>{
  const t=mk(ph,'line',{x1:px(v),x2:px(v),y1:936,y2:944,stroke:'#333'});
  
  
  const l=mk(ph,'text',{x:px(v),y:964,'class':'t16 m'},String(v));
  
  
});

/* ---------- panel i ---------- */
const pi=$('panelI');
const dotX=i=>45.2+i*(586-45.2)/(dotGenes.length-1);
const dotY=i=>1363.4+i*19;
const dotR=f=>8.7*Math.sqrt(f/60);
const meanDomain=[-.2,-.11,-.025,.06,.15,.24,.325,.41,.5];
const meanColors=['#fff5f0','#fee0d2','#fcbba1','#fc9272','#fb6a4a','#ef3b2c','#cb181d','#a50f15','#67000d'];
dotGenes.forEach((g,i)=>{
  const t=mk(pi,'line',{x1:dotX(i),x2:dotX(i),y1:1439.4,y2:1446,stroke:'#333'});
  
  
  const l=mk(pi,'text',{'class':'g18 e',transform:'translate('+(dotX(i)+6)+',1456) rotate(-90)'},g);
  
  
});
dotClusters.forEach((c,r)=>{
  const t=mk(pi,'line',{x1:19,x2:26.6,y1:dotY(r),y2:dotY(r),stroke:'#333'});
  
  
  const l=mk(pi,'text',{x:13,y:dotY(r)+6,'class':'t16 e'},c);
  
  
  dotGenes.forEach((g,i)=>{
    const d=mk(pi,'circle',{cx:dotX(i),cy:dotY(r),r:Math.max(.8,dotR(dotFraction[r][i])),fill:rampColor(meanDomain,meanColors,dotMean[r][i]),stroke:'#222','stroke-width':.8});
    
    
  });
});
const dotTree={x:627.7,k:[{x:618.6,k:[0,1]},{x:618.6,k:[2,3]}]};
drawTree(pi,dotTree,1353.9,19,611);
fractionLegend.forEach((f,i)=>{
  const x=676+i*18.8;
  const c=mk(pi,'circle',{cx:x,cy:1412,r:dotR(f)*(i===0?.8:1),fill:'#8c8c8c',stroke:'#333','stroke-width':.8});
  
  
  const t=mk(pi,'line',{x1:x,x2:x,y1:1423.6,y2:1428.3,stroke:'#555'});
  
  
});

/* ---------- panel j ---------- */
const pj=$('panelJ');
const jBoxes=[{x:866.3,y:1265.7,w:205,h:200},{x:1079,y:1265.7,w:211,h:200},{x:1297,y:1265.7,w:208,h:200}];
function hotspots(list,box,color,filter){
  const s=umapScale(box);
  list.forEach(h=>{
    const c=mk(pj,'circle',{cx:s.x(h[0]),cy:s.y(h[1]),r:h[2]*box.w/100,fill:color,filter:'url(#'+filter+')'});
    
    
  });
}
/* HNRNPU */
umapRegion(pj,umapOutline,jBoxes[0],'#fac4b6','jDense');
umapRegion(pj,umapOutline,jBoxes[0],'#ee6c57','jSparse');
hotspots(hnrnpuHotspots,jBoxes[0],'#e8604e','jSparse');
umapRegion(pj,hnrnpuLowRegion,jBoxes[0],'#dadada','jDense');
umapRegion(pj,hnrnpuLowPatch,jBoxes[0],'#dadada','jDense');
umapEdge(pj,umapOutline,jBoxes[0],'#f08a78','jSparse');
/* OTX2 */
umapRegion(pj,umapOutline,jBoxes[1],'#dcdcdc','jDense');
umapRegion(pj,umapOutline,jBoxes[1],'#ef7663','jSparse');
umapRegion(pj,otx2RightRegion,jBoxes[1],'#e9604c','jSparse');
umapRegion(pj,otx2TopRegion,jBoxes[1],'#f0a090','jDense');
umapRegion(pj,otx2TopRegion,jBoxes[1],'#a8141c','jMid');
umapEdge(pj,umapOutline,jBoxes[1],'#dcdcdc','jSparse');
/* DPPA4 */
umapRegion(pj,umapOutline,jBoxes[2],'#eadad6','jDense');
umapRegion(pj,umapOutline,jBoxes[2],'#ea6352','jMid');
umapRegion(pj,dppa4LowRegion,jBoxes[2],'#dcdcdc','jDense');
umapRegion(pj,dppa4LowRegion,jBoxes[2],'#ee8a78','jSparse');
hotspots(dppa4Hotspots,jBoxes[2],'#c4202a','jSparse');
umapEdge(pj,umapOutline,jBoxes[2],'#e88a7a','jSparse');

[935,1169,1363].forEach(x0=>{
  for(let k=0;k<=6;k++){
    const t=mk(pj,'line',{x1:x0+k*10.3,x2:x0+k*10.3,y1:1490,y2:1494,stroke:'#333','stroke-width':.7});
    
    
  }
});
/* keep frames and labels above the drawn regions */
['panelFt','panelGt','panelJt'].forEach(id=>$('fig').appendChild($(id)));
</script>
</body>
</html>
